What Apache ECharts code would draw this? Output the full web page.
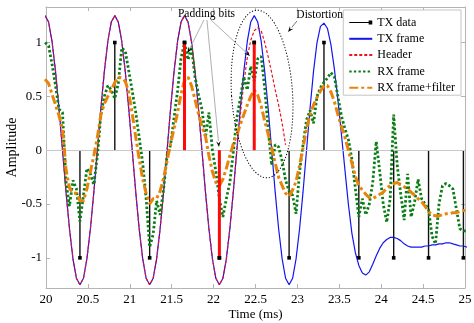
<!DOCTYPE html>
<html>
<head>
<meta charset="utf-8">
<script src="https://cdn.jsdelivr.net/npm/echarts/dist/echarts.min.js"></script>
<style>html,body{margin:0;padding:0;background:#fff;}#chart{width:474px;height:323px;}</style>
</head>
<body>
<div id="chart"></div>
<script>
// ---- data ----
const time = [19.989,20.031,20.072,20.114,20.155,20.197,20.239,20.280,20.322,20.363,
20.405,20.447,20.488,20.530,20.571,20.613,20.655,20.696,20.738,20.779,
20.821,20.863,20.904,20.946,20.987,21.029,21.071,21.112,21.154,21.195,
21.237,21.279,21.320,21.362,21.403,21.445,21.487,21.528,21.570,21.611,
21.653,21.695,21.736,21.778,21.819,21.861,21.903,21.944,21.986,22.027,
22.069,22.111,22.152,22.194,22.235,22.277,22.319,22.360,22.402,22.443,
22.485,22.527,22.568,22.610,22.651,22.693,22.735,22.776,22.818,22.859,
22.901,22.943,22.984,23.026,23.067,23.109,23.151,23.192,23.234,23.275,
23.317,23.359,23.400,23.442,23.483,23.525,23.567,23.608,23.650,23.691,
23.733,23.775,23.816,23.858,23.899,23.941,23.983,24.024,24.066,24.107,
24.149,24.191,24.232,24.274,24.315,24.357,24.399,24.440,24.482,24.523,
24.565,24.607,24.648,24.690,24.731,24.773,24.815,24.856,24.898,24.939,
24.981,25.023];

const txFrame = [1.25,1.19,1.01,0.73,0.39,0,-0.39,-0.73,-1.01,-1.19,
-1.25,-1.19,-1.01,-0.73,-0.39,0,0.39,0.73,1.01,1.19,
1.25,1.19,1.01,0.73,0.39,0,-0.39,-0.73,-1.01,-1.19,
-1.25,-1.19,-1.01,-0.73,-0.39,0,0.39,0.73,1.01,1.19,
1.25,1.19,1.01,0.73,0.39,0,-0.39,-0.73,-1.01,-1.19,
-1.25,-1.19,-1.01,-0.73,-0.39,0,0.39,0.73,1.01,1.19,
1.25,1.19,1.01,0.73,0.39,0,-0.39,-0.73,-1.01,-1.19,
-1.25,-1.19,-1.01,-0.73,-0.39,0,0.39,0.73,1.0,1.15,
1.18,1.13,0.98,0.75,0.47,0.15,-0.18,-0.5,-0.77,-0.95,
-1.07,-1.14,-1.16,-1.13,-1.06,-0.98,-0.91,-0.86,-0.83,-0.81,
-0.81,-0.82,-0.84,-0.87,-0.89,-0.9,-0.9,-0.9,-0.9,-0.89,
-0.89,-0.88,-0.88,-0.87,-0.87,-0.86,-0.86,-0.87,-0.88,-0.89,
-0.89,-0.9];

const header = [1.25,1.19,1.01,0.73,0.39,0,-0.39,-0.73,-1.01,-1.19,
-1.25,-1.19,-1.01,-0.73,-0.39,0,0.39,0.73,1.01,1.19,
1.25,1.19,1.01,0.73,0.39,0,-0.39,-0.73,-1.01,-1.19,
-1.25,-1.19,-1.01,-0.73,-0.39,0,0.39,0.73,1.01,1.19,
1.25,1.19,1.01,0.73,0.39,0,-0.39,-0.73,-1.01,-1.19,
-1.25,-1.19,-1.01,-0.73,-0.39,0,0.33,0.62,0.86,1.02,
1.11,1.14,1.11,1.0,0.87,0.72,0.56,0.42,0.25,0.05];

const rxFrame = [1.0,0.97,0.8,0.6,0.38,0.35,-0.3,-0.52,-0.28,-0.36,
-0.66,-0.42,-0.17,-0.22,-0.32,-0.05,0.33,0.5,0.6,0.56,
0.48,0.62,0.95,0.92,0.74,0.55,0.35,0.12,-0.12,-0.45,
-0.9,-0.78,-0.47,-0.6,-0.36,-0.05,0.05,0.3,0.55,0.85,
1.0,0.84,0.96,0.68,0.52,0.38,0.12,0.35,0.0,-0.2,
-0.45,-0.62,-0.45,-0.3,-0.02,0.3,0.48,0.68,0.56,0.78,
0.64,0.85,0.87,0.58,0.2,-0.14,0.05,0.03,-0.1,-0.28,
-0.38,-0.42,-0.59,-0.2,0.05,0.28,0.37,0.25,0.5,0.58,
0.63,0.67,0.72,0.68,0.5,0.32,0.2,0.1,-0.08,-0.35,
-0.62,-0.45,-0.6,-0.5,-0.3,0.08,-0.2,-0.5,-0.67,-0.45,
0.33,-0.14,-0.4,-0.65,-0.22,-0.62,-0.48,-0.27,-0.45,-0.5,
-0.55,-0.8,-0.87,-0.5,-0.33,-0.31,-0.33,-0.36,-0.55,-0.73,
-0.75,-0.75];

const rxFilter = [0.66,0.62,0.52,0.42,0.32,0.2,-0.18,-0.35,-0.4,-0.4,
-0.47,-0.47,-0.36,-0.2,-0.05,0.12,0.33,0.43,0.5,0.56,
0.63,0.68,0.67,0.64,0.54,0.34,0.12,-0.08,-0.27,-0.4,
-0.5,-0.45,-0.45,-0.38,-0.26,-0.1,0.06,0.2,0.35,0.52,
0.65,0.68,0.6,0.47,0.34,0.22,0.13,-0.05,-0.2,-0.3,
-0.33,-0.27,-0.17,-0.05,0.06,0.14,0.24,0.33,0.42,0.5,
0.56,0.51,0.41,0.27,0.15,0.02,-0.12,-0.25,-0.33,-0.4,
-0.43,-0.37,-0.29,-0.14,0.02,0.2,0.33,0.42,0.49,0.55,
0.6,0.6,0.54,0.45,0.33,0.22,0.12,0.0,-0.12,-0.24,
-0.33,-0.37,-0.41,-0.44,-0.45,-0.43,-0.41,-0.39,-0.35,-0.33,
-0.31,-0.3,-0.32,-0.34,-0.36,-0.39,-0.42,-0.45,-0.48,-0.52,
-0.57,-0.6,-0.61,-0.61,-0.6,-0.59,-0.59,-0.58,-0.58,-0.57,
-0.56,-0.56];

const stemTimes = [20.405,20.821,21.237,21.653,22.069,22.485,22.901,23.317,23.733,24.149,24.565,24.981];
const txData = [-1,1,-1,1,-1,1,-1,1,-1,-1,-1,-1];
const paddingTimes = [21.653,22.069,22.485];
const paddingBits = [1,-1,1];

const xTicks = [20,20.5,21,21.5,22,22.5,23,23.5,24,24.5,25];
const yTicks = [-1,-0.5,0,0.5,1];

const seriesNames = ['TX data','TX frame','Header','RX frame','RX frame+filter'];

// ---- chart ----
const FONT = '"Liberation Serif", "Times New Roman", serif';
const AX = '#b4b4b4';
const chart = echarts.init(document.getElementById('chart'), null, {renderer:'canvas'});

const pairs = (xs, ys) => ys.map((v, i) => [xs[i], v]);

function stemRender(color, width) {
  return function (params, api) {
    const x = api.value(0), y = api.value(1);
    const a = api.coord([x, 0]), b = api.coord([x, y]);
    return {
      type: 'group',
      children: [
        {type:'line', shape:{x1:a[0], y1:a[1], x2:b[0], y2:b[1]}, style:{stroke:color, lineWidth:width}},
        {type:'rect', shape:{x:b[0]-1.8, y:b[1]-1.8, width:3.6, height:3.6}, style:{fill:'#000'}}
      ]
    };
  };
}

const axisCommonX = {
  type:'value', min:20, max:25, interval:0.5,
  axisLine:{show:true, onZero:false, lineStyle:{color:AX, width:1}},
  axisTick:{show:true, inside:true, length:4, lineStyle:{color:AX}},
  splitLine:{show:false}
};
const axisCommonY = {
  type:'value', min:-1.28, max:1.33,
  axisLine:{show:true, onZero:false, lineStyle:{color:AX, width:1}},
  axisTick:{show:true, inside:true, length:4, customValues:yTicks, lineStyle:{color:AX}},
  splitLine:{show:false}
};

const hideSym = {opacity:0, borderWidth:0};

chart.setOption({
  animation:false,
  backgroundColor:'#fff',
  grid:{left:46, right:9, top:7, bottom:35, containLabel:false, outerBoundsMode:'none'},
  xAxis:[
    Object.assign({}, axisCommonX, {
      position:'bottom',
      axisLabel:{color:'#000', fontFamily:FONT, fontSize:13, margin:5},
      name:'Time (ms)', nameLocation:'middle', nameGap:20, nameMoveOverlap:false,
      nameTextStyle:{color:'#000', fontFamily:FONT, fontSize:13}
    }),
    Object.assign({}, axisCommonX, {position:'top', axisLabel:{show:false}})
  ],
  yAxis:[
    Object.assign({}, axisCommonY, {
      position:'left',
      axisLabel:{color:'#000', fontFamily:FONT, fontSize:13, margin:4, customValues:yTicks},
      name:'Amplitude', nameLocation:'middle', nameGap:27, nameRotate:90, nameMoveOverlap:false,
      nameTextStyle:{color:'#000', fontFamily:FONT, fontSize:14}
    }),
    Object.assign({}, axisCommonY, {position:'right', axisLabel:{show:false}})
  ],
  legend:{
    orient:'vertical', right:13, top:10,
    itemWidth:23, itemHeight:8, itemGap:4.3,
    padding:[6.5, 6, 1.5, 5],
    backgroundColor:'#fff', borderColor:'#c4c4c4', borderWidth:1, borderRadius:0,
    selectedMode:false,
    textStyle:{fontFamily:FONT, fontSize:12, color:'#000'},
    data:[
      {name:seriesNames[0], icon:'path://M0,1.6H20V2.4H0Z M19.4,0H23V4H19.4Z'},
      {name:seriesNames[1], itemStyle:hideSym},
      {name:seriesNames[2], itemStyle:hideSym},
      {name:seriesNames[3], itemStyle:hideSym},
      {name:seriesNames[4], itemStyle:hideSym}
    ]
  },
  series:[
    {
      name:seriesNames[0], type:'custom', z:2,
      renderItem:stemRender('#111', 1.4),
      encode:{x:0, y:1},
      itemStyle:{color:'#000'},
      data:pairs(stemTimes, txData),
      markLine:{
        silent:true, symbol:'none', animation:false,
        label:{show:false},
        lineStyle:{color:'#c8c8c8', type:'solid', width:1},
        data:[{yAxis:0}]
      }
    },
    {
      name:seriesNames[1], type:'line', z:3, symbol:'none',
      itemStyle:{color:'#1414f0'},
      lineStyle:{color:'#1414f0', width:1.2},
      data:pairs(time, txFrame)
    },
    {
      name:seriesNames[2], type:'line', z:4, symbol:'none',
      itemStyle:{color:'#f01020'},
      lineStyle:{color:'#f01020', width:1.2, type:[3,2]},
      data:pairs(time, header)
    },
    {
      name:seriesNames[3], type:'line', z:5, symbol:'none',
      itemStyle:{color:'#0b7d16'},
      lineStyle:{color:'#0b7d16', width:2.8, type:[2.4,2.2]},
      data:pairs(time, rxFrame)
    },
    {
      name:seriesNames[4], type:'line', z:6, symbol:'none',
      itemStyle:{color:'#e8840c'},
      lineStyle:{color:'#e8840c', width:3, type:[9,3,3,3]},
      data:pairs(time, rxFilter)
    },
    {
      name:'Padding bits', type:'custom', z:7,
      renderItem:stemRender('#ff0a0a', 3),
      encode:{x:0, y:1},
      itemStyle:{color:'#ff0a0a'},
      data:pairs(paddingTimes, paddingBits)
    }
  ]
});

// ---- annotations, placed through the chart's scales ----
const P = (t, v) => chart.convertToPixel({xAxisIndex:0, yAxisIndex:0}, [t, v]);
function arrow(from, to, color) {
  const a = P(from[0], from[1]), b = P(to[0], to[1]);
  const dx = b[0]-a[0], dy = b[1]-a[1], L = Math.hypot(dx, dy);
  const ux = dx/L, uy = dy/L, hl = 6, hw = 2.3;
  const base = [b[0]-ux*hl, b[1]-uy*hl];
  return [
    {type:'line', z:100, shape:{x1:a[0], y1:a[1], x2:base[0], y2:base[1]}, style:{stroke:color, lineWidth:1}},
    {type:'polygon', z:101, shape:{points:[b, [base[0]-uy*hw, base[1]+ux*hw], [b[0]-ux*hl*0.6, b[1]-uy*hl*0.6], [base[0]+uy*hw, base[1]-ux*hw]]}, style:{fill:'#000'}}
  ];
}
function label(text, t, v) {
  const p = P(t, v);
  return {type:'text', z:102, x:p[0], y:p[1],
    style:{text:text, fontFamily:'Liberation Serif', fontSize:11.5, fill:'#000', align:'center', verticalAlign:'middle'}};
}
const ec = P(22.578, 0.522);
const erx = P(22.578 + 0.364, 0.522)[0] - ec[0];
const ery = ec[1] - P(22.578, 0.522 + 0.78)[1];

const graphics = [].concat(
  arrow([21.885, 1.209], [21.689, 0.903], '#b0b0b0'),
  arrow([21.921, 1.209], [22.064, 0.03], '#b0b0b0'),
  arrow([21.969, 1.209], [22.434, 0.875], '#b0b0b0'),
  arrow([22.995, 1.2], [22.888, 1.097], '#777'),
  [
    {type:'ellipse', z:100, x:ec[0], y:ec[1], rotation:0.065,
      shape:{cx:0, cy:0, rx:erx, ry:ery},
      style:{fill:null, stroke:'#000', lineWidth:1, lineDash:[1.2,1.8]}},
    label('Padding bits', 21.915, 1.269),
    label('Distortion', 23.266, 1.255)
  ]
);
chart.setOption({graphic:graphics});
</script>
</body>
</html>
